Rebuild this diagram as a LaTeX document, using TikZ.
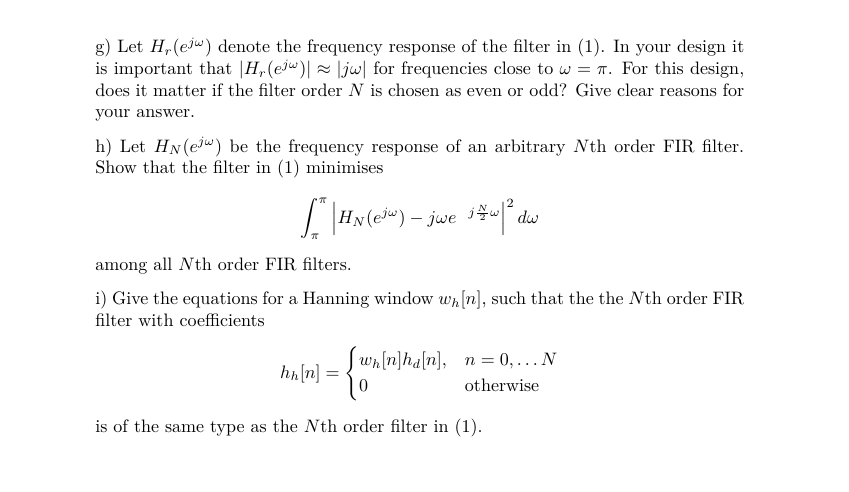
\documentclass[tikz,border=0pt]{standalone}
\usepackage{amsmath}
\begin{document}
\begin{tikzpicture}[x=1pt,y=1pt]
\useasboundingbox (0,0) rectangle (471,272.4);
\node[anchor=north west,inner sep=0pt] (body) at (52.7,251.5) {\begin{minipage}{360pt}
\setlength{\parskip}{7pt}\setlength{\parindent}{0pt}
\setlength{\abovedisplayskip}{10pt}\setlength{\belowdisplayskip}{9pt}
g) Let $H_r(e^{j\omega})$ denote the frequency response of the filter in (1). In your design it is important that $|H_r(e^{j\omega})|\approx|j\omega|$ for frequencies close to $\omega=\pi$. For this design, does it matter if the filter order $N$ is chosen as even or odd? Give clear reasons for\linebreak your answer.

h) Let $H_N(e^{j\omega})$ be the frequency response of an arbitrary $N$th order FIR filter. Show that the filter in (1) minimises
\[\int_{\pi}^{\pi}\left|H_N(e^{j\omega})-j\omega e^{\ \ j\frac{N}{2}\omega}\right|^2 d\omega\]
among all $N$th order FIR filters.

i) Give the equations for a Hanning window $w_h[n]$, such that the the $N$th order FIR\linebreak filter with coefficients
\[h_h[n]=\begin{cases} w_h[n]h_d[n], & n=0,\dots N\\ 0 & \text{otherwise}\end{cases}\]
is of the same type as the $N$th order filter in (1).
\end{minipage}};
\end{tikzpicture}
\end{document}
